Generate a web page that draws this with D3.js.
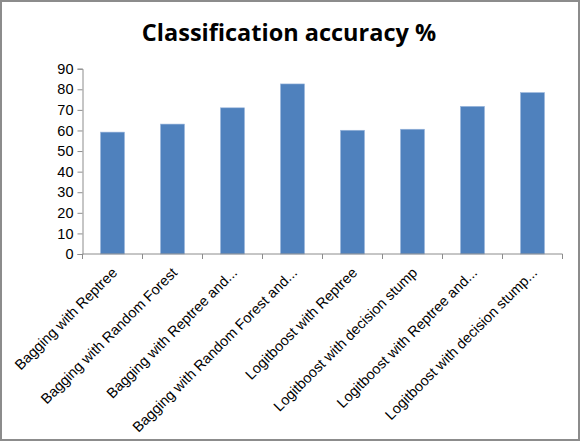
<!DOCTYPE html>
<html><head><meta charset="utf-8">
<script src="https://cdn.jsdelivr.net/npm/d3@7"></script>
<style>body{margin:0;background:#fff}svg{display:block}</style>
</head><body>
<svg id="c" width="580" height="441"></svg>
<script>
const categories = ["Bagging with Reptree","Bagging with Random Forest","Bagging with Reptree and...","Bagging with Random Forest and...","Logitboost with Reptree","Logitboost with decision stump","Logitboost with Reptree and...","Logitboost with decision stump..."];
const accuracy = [59.2, 63.1, 71.0, 82.6, 60.1, 60.6, 71.7, 78.4];
const yTicks = [0,10,20,30,40,50,60,70,80,90];
const title = "Classification accuracy %";

const svg = d3.select("#c");
svg.append("rect").attr("x",1).attr("y",1).attr("width",578).attr("height",439)
  .attr("fill","#fff").attr("stroke","#8c8c8c").attr("stroke-width",2);

const m = {l:82.5, r:562.5, t:68.7, b:254};
const x = d3.scaleBand().domain(categories).range([m.l, m.r]).paddingInner(0.6).paddingOuter(0.3);
const y = d3.scaleLinear().domain([0,90]).range([m.b, m.t]);

svg.append("text").attr("x",289).attr("y",41).attr("text-anchor","middle")
  .attr("font-family","Open Sans, Liberation Sans, sans-serif").attr("font-weight","bold")
  .attr("font-size",23.5).attr("fill","#000").text(title);

svg.selectAll("rect.bar").data(categories).join("rect").attr("class","bar")
  .attr("x",d=>x(d)).attr("width",x.bandwidth())
  .attr("y",(d,i)=>y(accuracy[i])).attr("height",(d,i)=>y(0)-y(accuracy[i]))
  .attr("fill","#4f81bd").attr("stroke","#9bb6dc").attr("stroke-width",0.6);

const ya = svg.append("g").attr("transform",`translate(${m.l},0)`)
  .call(d3.axisLeft(y).tickValues(yTicks).tickSize(5).tickPadding(4));
ya.select(".domain").attr("stroke","#8c8c8c");
ya.selectAll(".tick line").attr("stroke","#8c8c8c");
ya.selectAll(".tick text").attr("font-family","Liberation Sans, Arial, sans-serif").attr("font-size",14.5).attr("fill","#000");

const xa = svg.append("g").attr("transform",`translate(0,${m.b})`);
xa.append("line").attr("x1",m.l).attr("x2",m.r).attr("stroke","#8c8c8c");
const bounds = d3.range(categories.length+1).map(i=>m.l + i*(m.r-m.l)/categories.length);
xa.selectAll("line.t").data(bounds).join("line").attr("class","t")
  .attr("x1",d=>d).attr("x2",d=>d).attr("y1",0).attr("y2",5).attr("stroke","#8c8c8c");
xa.selectAll("text").data(categories).join("text")
  .attr("transform",d=>`translate(${x(d)+x.bandwidth()/2+2},${16}) rotate(-45)`)
  .attr("text-anchor","end").attr("dy","0.35em")
  .attr("font-family","Liberation Sans, Arial, sans-serif").attr("font-size",14.4).attr("fill","#000")
  .text(d=>d);
</script>
</body></html>
